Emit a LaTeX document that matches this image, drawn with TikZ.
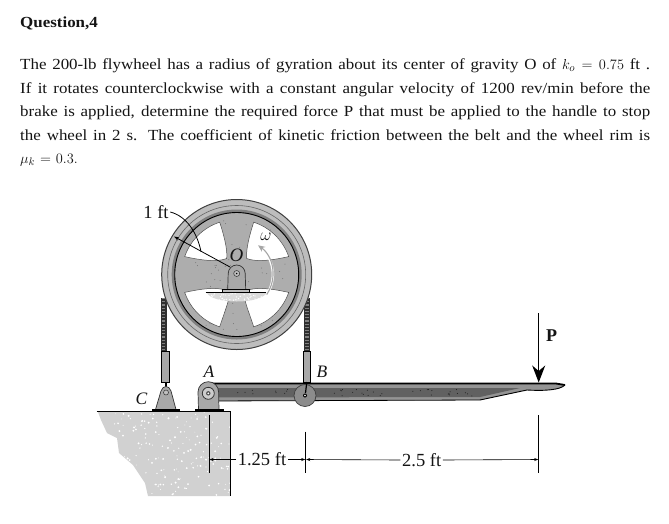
\documentclass[tikz,border=0pt]{standalone}
\usepackage[no-math]{fontspec}
\setmainfont{Liberation Serif}
\newfontfamily\parafont[FakeStretch=1.1]{Liberation Serif}
\usepackage{amsmath}
\usetikzlibrary{arrows.meta,calc}
\definecolor{ink}{gray}{0.08}
\definecolor{steel}{gray}{0.66}
\definecolor{rimgray}{gray}{0.74}
\definecolor{barout}{gray}{0.58}
\tikzset{
  para/.style={anchor=base west,inner sep=0pt,text=ink,font=\fontsize{15.4}{18}\selectfont\parafont},
  dimtext/.style={inner sep=1.5pt,text=ink,font=\fontsize{18.5}{21}\selectfont},
  letter/.style={inner sep=0pt,text=ink,font=\fontsize{17.5}{20}\selectfont\itshape},
  extline/.style={draw=black,line width=0.9pt},
  dimarrow/.style={draw=black,line width=0.6pt,-{Stealth[length=4pt,width=3pt]}},
  plainline/.style={draw=black,line width=0.6pt},
  cable/.style={draw=black!82,line width=6pt},
  cabletwist/.style={draw=black!50,line width=3.8pt,dash pattern=on 1.2pt off 2pt},
  sleeve/.style={draw=black,line width=0.9pt,fill=steel},
  bracketshape/.style={draw=black!80,line width=0.7pt,fill=steel},
  baseplate/.style={fill=black},
  window/.style={fill=white,draw=black!70,line width=0.5pt}
}
\newcommand{\para}[3]{\node[para] (#1) at (20,#2) {\makebox[630pt][s]{#3}};}
\newcommand{\groundpath}{(98,412) -- (101,420) -- (107,433) -- (117,438) -- (119,453) -- (133,465) -- (145,483) -- (148,496) -- (230,496) -- (230,412) -- cycle}
\begin{document}
\begin{tikzpicture}[x=1pt,y=-1pt]
\useasboundingbox (0,0) rectangle (669,523);
\fill[white] (0,0) rectangle (669,523);
\pgfmathsetseed{4217}
% text
\node[para,font=\fontsize{15.4}{18}\selectfont\parafont\bfseries] (title) at (20,27) {Question,4};
\para{l1}{69}{The 200-lb flywheel has a radius of gyration about its center of gravity O of $k_{o}\mskip8mu{=}\mskip8mu0.75$ ft .}
\para{l2}{93}{If it rotates counterclockwise with a constant angular velocity of 1200 rev/min before the}
\para{l3}{116.5}{brake is applied, determine the required force P that must be applied to the handle to stop}
\para{l4}{140}{the wheel in 2 s. The coefficient of kinetic friction between the belt and the wheel rim is}
\node[para] (l5) at (20,163) {$\mu_k\mskip6mu{=}\mskip6mu0.3.$};
% ground
\fill[black!18] \groundpath;
\begin{scope}
\clip \groundpath;
\foreach \i in {1,...,190}{
  \pgfmathsetmacro{\px}{98+132*rnd}
  \pgfmathsetmacro{\py}{412+84*rnd}
  \pgfmathsetmacro{\pr}{0.4+0.7*rnd}
  \fill[white] (\px,\py) circle (\pr pt);
}
\end{scope}
\coordinate (gl) at (96.5,411);
\coordinate (gc) at (230,411);
\coordinate (gb) at (230,496);
\draw[black,line width=1pt] (gl) -- (gc) -- (gb);
% cables
\coordinate (cl1) at (163.5,298); \coordinate (cl2) at (163.5,351);
\coordinate (cr1) at (306.8,298); \coordinate (cr2) at (306.8,351);
\draw[cable] (cl1) -- (cl2); \draw[cabletwist] (cl1) -- (cl2);
\draw[cable] (cr1) -- (cr2); \draw[cabletwist] (cr1) -- (cr2);
% wheel
\begin{scope}[shift={(236.7,274.5)},y=1pt]
  \fill[rimgray] (0,0) circle (75pt);
  \draw[black!75,line width=1pt] (0,0) circle (75pt);
  \draw[black!60,line width=0.6pt] (0,0) circle (69pt);
  \fill[black!50] (0,0) circle (65pt);
  \fill[black!32] (0,0) circle (61.5pt);
  \draw[black,line width=0.9pt] (0,0) circle (62pt);
  \begin{scope}
    \clip (0,0) circle (61pt);
    \foreach \i in {1,...,70}{
      \pgfmathsetmacro{\aa}{360*rnd}
      \pgfmathsetmacro{\rr}{8+52*rnd}
      \fill[black!55] (\aa:\rr pt) circle (0.5pt);
    }
  \end{scope}
  % windows
  \path[window] (72:55pt) arc[start angle=72,end angle=19,radius=55pt] .. controls (30,13) and (18,13) .. (10,16) .. controls (9,25) and (13,40) .. cycle;
  \path[window] (108:55pt) arc[start angle=108,end angle=161,radius=55pt] .. controls (-30,13) and (-18,13) .. (-10,16) .. controls (-9,25) and (-13,40) .. cycle;
  \path[window] (-19:55pt) arc[start angle=-19,end angle=-72,radius=55pt] .. controls (13,-40) and (9,-30) .. (8,-24) -- (10,-16) .. controls (18,-13) and (30,-13) .. cycle;
  \path[window] (199:55pt) arc[start angle=199,end angle=252,radius=55pt] .. controls (-13,-40) and (-9,-30) .. (-8,-24) -- (-10,-16) .. controls (-18,-13) and (-30,-13) .. cycle;
  % omega arrow
  \draw[white,line width=2.4pt] (30,-20) arc[start angle=-34,end angle=50,radius=36pt];
  \draw[black!35,line width=1.1pt,-{Stealth[length=7pt,width=6pt]}] (30,-20) arc[start angle=-34,end angle=54,radius=36pt];
  % foundation glow
  \fill[black!14] (-30,-18) .. controls (-25,-30) and (25,-30) .. (30,-18) -- cycle;
  \foreach \i in {1,...,45}{
    \pgfmathsetmacro{\px}{-26+52*rnd}
    \pgfmathsetmacro{\py}{-19-7*rnd}
    \fill[white] (\px,\py) circle (0.7pt);
  }
  % bracket
  \draw[bracketshape] (-9,-15) -- (-8.5,1) arc[start angle=180,end angle=0,radius=8.5pt] -- (9,-15) -- cycle;
  \draw[black!80,fill=black!25,line width=0.5pt] (0,1) circle (3pt);
  \fill[black] (0,1) circle (0.8pt);
  \draw[black,line width=0.8pt,fill=rimgray] (-14,-15) rectangle (13,-18);
  \draw[black,line width=0.9pt] (-31,-18) -- (29,-18);
\end{scope}
% wheel labels
\node[letter,font=\fontsize{19}{22}\selectfont\itshape] (O) at (236.5,255.5) {O};
\node[letter,font=\fontsize{17}{20}\selectfont] (omega) at (266,237) {$\omega$};
\node[dimtext] (oneft) at (156,212) {1 ft};
\coordinate (leadend) at (201,251.5);
\coordinate (radin) at (230,267);
\coordinate (radout) at (174,236.5);
\draw[plainline,line width=0.8pt] (oneft.east) .. controls (186,216) and (197,232) .. (leadend);
\draw[plainline,line width=0.8pt,-{Stealth[length=5pt,width=3.5pt]}] (radin) -- (radout);
% left sleeve and bracket C
\draw[black,line width=1.2pt] (166,382) -- (166,393);
\draw[sleeve] (161.7,351) rectangle (169.3,382);
\draw[bracketshape] (155.5,409.5) -- (161,391) .. controls (163,385) and (169,385) .. (171,391) -- (176,409.5) -- cycle;
\draw[black!80,fill=black!25,line width=0.5pt] (166,392.5) circle (2.5pt);
\path[baseplate] (152,409) rectangle (180,411);
% handle
\path[fill=barout] (208,383.3) -- (556,383.3) -- (565,385) .. controls (560,390) and (545,391) .. (527,390) -- (480,400) -- (208,401) -- cycle;
\fill[black!62] (208,388) -- (520,388) -- (480,397) -- (208,397.5) -- cycle;
\foreach \i in {1,...,40}{
  \pgfmathsetmacro{\px}{225+250*rnd}
  \pgfmathsetmacro{\py}{389+7*rnd}
  \fill[black!90] (\px,\py) circle (0.5pt);
}
\draw[black,line width=0.8pt] (480,400) -- (208,401);
\draw[black,line width=0.9pt] (480,400) -- (527,390) .. controls (545,391) and (560,390) .. (565,385);
\draw[black,line width=1.8pt] (208,383.5) -- (556,383.5) -- (565,385);
% bracket A
\draw[bracketshape] (198.5,409.5) -- (198,392) arc[start angle=180,end angle=0,radius=10.3pt] -- (219,409.5) -- cycle;
\draw[black!80,line width=0.8pt,fill=black!20] (208.3,393.3) circle (6pt);
\fill[black!70] (208.3,393.3) circle (2.2pt);
\fill[white] (208.3,393.3) circle (1pt);
\path[baseplate] (195,409) rectangle (223.5,411);
% right sleeve and pin B
\draw[black!75,line width=0.7pt,fill=black!45] (305,395.5) circle (11pt);
\draw[sleeve] (303.3,351) rectangle (310.7,382);
\draw[black,line width=1.2pt] (306.8,382) -- (305.5,393);
\fill[black] (305,395.5) circle (2pt);
\fill[white] (305,395.5) circle (0.8pt);
% letters
\node[letter] (A) at (209,372) {A};
\node[letter] (B) at (322,372) {B};
\node[letter] (C) at (141.5,399) {C};
% P force
\coordinate (Ptop) at (538.7,313);
\coordinate (Ptip) at (538.7,382.5);
\draw[black,line width=1.3pt,-{Stealth[length=17pt,width=13pt]}] (Ptop) -- (Ptip);
\node[letter,font=\fontsize{18}{20}\selectfont\bfseries] (P) at (551.5,336) {P};
% dimensions
\coordinate (e1a) at (209,415); \coordinate (e1b) at (209,473);
\coordinate (e2a) at (305.7,431.5); \coordinate (e2b) at (305.7,473);
\coordinate (e3a) at (538.7,415); \coordinate (e3b) at (538.7,473);
\draw[extline] (e1a) -- (e1b);
\draw[extline] (e2a) -- (e2b);
\draw[extline] (e3a) -- (e3b);
\node[dimtext] (d1) at (262,459.5) {1.25 ft};
\node[dimtext] (d2) at (421.7,460) {2.5 ft};
\coordinate (t1) at (209.6,459.5);
\coordinate (t2l) at (305.2,459.5);
\coordinate (t2r) at (306.2,459.5);
\coordinate (t3) at (538.2,459.5);
\draw[dimarrow] (d1.west) -- (t1);
\draw[dimarrow] (d1.east) -- (t2l);
\draw[dimarrow] (d2.west) -- (t2r);
\draw[dimarrow] (d2.east) -- (t3);
\end{tikzpicture}
\end{document}
